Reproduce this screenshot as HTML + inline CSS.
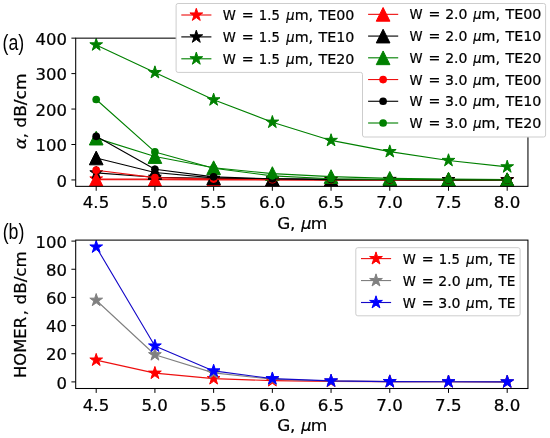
<!DOCTYPE html>
<html lang="en"><head><meta charset="utf-8"><title>Figure</title>
<style>html,body{margin:0;padding:0;background:#fff}svg{display:block}text{font-family:"DejaVu Sans","Liberation Sans",sans-serif;fill:#000;stroke:#000;stroke-width:0.22px}.t{font-size:15px}.g{font-size:14px}.l{font-size:15.6px}.x{font-size:16px}.p{font-family:"Liberation Sans",sans-serif;font-size:22.3px;stroke:none}.i{font-style:italic}</style></head>
<body>
<svg width="550" height="438" viewBox="0 0 550 438">
<rect width="550" height="438" fill="#fff"/>
<defs><clipPath id="c1"><rect x="75.7" y="38.15" width="452.25" height="148.2"/></clipPath><clipPath id="c2"><rect x="75.7" y="240.1" width="452.25" height="148.4"/></clipPath></defs>
<g clip-path="url(#c1)">
<polyline points="96.2,178.96 154.92,179.17 213.63,179.38 272.35,179.52 331.06,179.6 389.78,179.67 448.49,179.77 507.2,179.81" fill="none" stroke="#ee1010" stroke-width="1.12" stroke-linejoin="round"/>
<path d="M96.2,172.26L97.7,176.89L102.57,176.89L98.63,179.75L100.14,184.38L96.2,181.52L92.26,184.38L93.77,179.75L89.83,176.89L94.7,176.89Z" fill="#ff0000" stroke="#ff0000" stroke-width="1"/>
<path d="M154.92,172.47L156.42,177.1L161.29,177.1L157.35,179.96L158.85,184.59L154.92,181.73L150.98,184.59L152.48,179.96L148.54,177.1L153.41,177.1Z" fill="#ff0000" stroke="#ff0000" stroke-width="1"/>
<path d="M213.63,172.68L215.13,177.31L220,177.31L216.06,180.17L217.57,184.8L213.63,181.94L209.69,184.8L211.2,180.17L207.26,177.31L212.13,177.31Z" fill="#ff0000" stroke="#ff0000" stroke-width="1"/>
<path d="M272.35,172.82L273.85,177.45L278.72,177.45L274.78,180.32L276.28,184.95L272.35,182.08L268.41,184.95L269.91,180.32L265.97,177.45L270.84,177.45Z" fill="#ff0000" stroke="#ff0000" stroke-width="1"/>
<path d="M331.06,172.9L332.56,177.53L337.43,177.53L333.49,180.39L335,185.02L331.06,182.15L327.12,185.02L328.63,180.39L324.69,177.53L329.56,177.53Z" fill="#ff0000" stroke="#ff0000" stroke-width="1"/>
<path d="M389.78,172.97L391.28,177.6L396.15,177.6L392.21,180.46L393.71,185.09L389.78,182.23L385.84,185.09L387.34,180.46L383.4,177.6L388.27,177.6Z" fill="#ff0000" stroke="#ff0000" stroke-width="1"/>
<path d="M448.49,173.07L449.99,177.7L454.86,177.7L450.92,180.56L452.43,185.19L448.49,182.33L444.55,185.19L446.06,180.56L442.12,177.7L446.99,177.7Z" fill="#ff0000" stroke="#ff0000" stroke-width="1"/>
<path d="M507.2,173.11L508.71,177.74L513.58,177.74L509.64,180.6L511.14,185.23L507.2,182.37L503.27,185.23L504.77,180.6L500.83,177.74L505.7,177.74Z" fill="#ff0000" stroke="#ff0000" stroke-width="1"/>
<polyline points="96.2,172.86 154.92,177.29 213.63,178.35 272.35,178.89 331.06,179.24 389.78,179.45 448.49,179.6 507.2,179.74" fill="none" stroke="#000000" stroke-width="1.12" stroke-linejoin="round"/>
<path d="M96.2,166.16L97.7,170.79L102.57,170.79L98.63,173.65L100.14,178.28L96.2,175.42L92.26,178.28L93.77,173.65L89.83,170.79L94.7,170.79Z" fill="#000000" stroke="#000000" stroke-width="1"/>
<path d="M154.92,170.59L156.42,175.22L161.29,175.22L157.35,178.08L158.85,182.71L154.92,179.85L150.98,182.71L152.48,178.08L148.54,175.22L153.41,175.22Z" fill="#000000" stroke="#000000" stroke-width="1"/>
<path d="M213.63,171.65L215.13,176.28L220,176.28L216.06,179.15L217.57,183.78L213.63,180.91L209.69,183.78L211.2,179.15L207.26,176.28L212.13,176.28Z" fill="#000000" stroke="#000000" stroke-width="1"/>
<path d="M272.35,172.19L273.85,176.82L278.72,176.82L274.78,179.68L276.28,184.31L272.35,181.45L268.41,184.31L269.91,179.68L265.97,176.82L270.84,176.82Z" fill="#000000" stroke="#000000" stroke-width="1"/>
<path d="M331.06,172.54L332.56,177.17L337.43,177.17L333.49,180.03L335,184.66L331.06,181.8L327.12,184.66L328.63,180.03L324.69,177.17L329.56,177.17Z" fill="#000000" stroke="#000000" stroke-width="1"/>
<path d="M389.78,172.75L391.28,177.38L396.15,177.38L392.21,180.24L393.71,184.87L389.78,182.01L385.84,184.87L387.34,180.24L383.4,177.38L388.27,177.38Z" fill="#000000" stroke="#000000" stroke-width="1"/>
<path d="M448.49,172.9L449.99,177.53L454.86,177.53L450.92,180.39L452.43,185.02L448.49,182.15L444.55,185.02L446.06,180.39L442.12,177.53L446.99,177.53Z" fill="#000000" stroke="#000000" stroke-width="1"/>
<path d="M507.2,173.04L508.71,177.67L513.58,177.67L509.64,180.53L511.14,185.16L507.2,182.3L503.27,185.16L504.77,180.53L500.83,177.67L505.7,177.67Z" fill="#000000" stroke="#000000" stroke-width="1"/>
<polyline points="96.2,44.89 154.92,72.54 213.63,99.83 272.35,122.17 331.06,140.42 389.78,151.59 448.49,160.45 507.2,166.83" fill="none" stroke="#008000" stroke-width="1.12" stroke-linejoin="round"/>
<path d="M96.2,38.19L97.7,42.82L102.57,42.82L98.63,45.68L100.14,50.31L96.2,47.44L92.26,50.31L93.77,45.68L89.83,42.82L94.7,42.82Z" fill="#008000" stroke="#008000" stroke-width="1"/>
<path d="M154.92,65.84L156.42,70.47L161.29,70.47L157.35,73.33L158.85,77.96L154.92,75.1L150.98,77.96L152.48,73.33L148.54,70.47L153.41,70.47Z" fill="#008000" stroke="#008000" stroke-width="1"/>
<path d="M213.63,93.13L215.13,97.76L220,97.76L216.06,100.62L217.57,105.25L213.63,102.39L209.69,105.25L211.2,100.62L207.26,97.76L212.13,97.76Z" fill="#008000" stroke="#008000" stroke-width="1"/>
<path d="M272.35,115.47L273.85,120.1L278.72,120.1L274.78,122.96L276.28,127.59L272.35,124.73L268.41,127.59L269.91,122.96L265.97,120.1L270.84,120.1Z" fill="#008000" stroke="#008000" stroke-width="1"/>
<path d="M331.06,133.72L332.56,138.35L337.43,138.35L333.49,141.21L335,145.84L331.06,142.98L327.12,145.84L328.63,141.21L324.69,138.35L329.56,138.35Z" fill="#008000" stroke="#008000" stroke-width="1"/>
<path d="M389.78,144.89L391.28,149.52L396.15,149.52L392.21,152.38L393.71,157.01L389.78,154.15L385.84,157.01L387.34,152.38L383.4,149.52L388.27,149.52Z" fill="#008000" stroke="#008000" stroke-width="1"/>
<path d="M448.49,153.75L449.99,158.38L454.86,158.38L450.92,161.24L452.43,165.87L448.49,163.01L444.55,165.87L446.06,161.24L442.12,158.38L446.99,158.38Z" fill="#008000" stroke="#008000" stroke-width="1"/>
<path d="M507.2,160.13L508.71,164.76L513.58,164.76L509.64,167.62L511.14,172.25L507.2,169.39L503.27,172.25L504.77,167.62L500.83,164.76L505.7,164.76Z" fill="#008000" stroke="#008000" stroke-width="1"/>
<polyline points="96.2,179.6 154.92,179.77 213.63,179.84 272.35,179.88 331.06,179.91 389.78,179.91 448.49,179.95 507.2,179.95" fill="none" stroke="#ee1010" stroke-width="1.12" stroke-linejoin="round"/>
<path d="M96.2,172.75L89.35,186.45L103.05,186.45Z" fill="#ff0000" stroke="#ff0000" stroke-width="1"/>
<path d="M154.92,172.92L148.07,186.62L161.77,186.62Z" fill="#ff0000" stroke="#ff0000" stroke-width="1"/>
<path d="M213.63,172.99L206.78,186.69L220.48,186.69Z" fill="#ff0000" stroke="#ff0000" stroke-width="1"/>
<path d="M272.35,173.03L265.5,186.73L279.2,186.73Z" fill="#ff0000" stroke="#ff0000" stroke-width="1"/>
<path d="M331.06,173.06L324.21,186.76L337.91,186.76Z" fill="#ff0000" stroke="#ff0000" stroke-width="1"/>
<path d="M389.78,173.06L382.93,186.76L396.63,186.76Z" fill="#ff0000" stroke="#ff0000" stroke-width="1"/>
<path d="M448.49,173.1L441.64,186.8L455.34,186.8Z" fill="#ff0000" stroke="#ff0000" stroke-width="1"/>
<path d="M507.2,173.1L500.35,186.8L514.05,186.8Z" fill="#ff0000" stroke="#ff0000" stroke-width="1"/>
<polyline points="96.2,157.97 154.92,172.51 213.63,177.82 272.35,179.06 331.06,179.6 389.78,179.77 448.49,179.88 507.2,179.91" fill="none" stroke="#000000" stroke-width="1.12" stroke-linejoin="round"/>
<path d="M96.2,151.12L89.35,164.82L103.05,164.82Z" fill="#000000" stroke="#000000" stroke-width="1"/>
<path d="M154.92,165.66L148.07,179.36L161.77,179.36Z" fill="#000000" stroke="#000000" stroke-width="1"/>
<path d="M213.63,170.97L206.78,184.67L220.48,184.67Z" fill="#000000" stroke="#000000" stroke-width="1"/>
<path d="M272.35,172.21L265.5,185.91L279.2,185.91Z" fill="#000000" stroke="#000000" stroke-width="1"/>
<path d="M331.06,172.75L324.21,186.45L337.91,186.45Z" fill="#000000" stroke="#000000" stroke-width="1"/>
<path d="M389.78,172.92L382.93,186.62L396.63,186.62Z" fill="#000000" stroke="#000000" stroke-width="1"/>
<path d="M448.49,173.03L441.64,186.73L455.34,186.73Z" fill="#000000" stroke="#000000" stroke-width="1"/>
<path d="M507.2,173.06L500.35,186.76L514.05,186.76Z" fill="#000000" stroke="#000000" stroke-width="1"/>
<polyline points="96.2,138.12 154.92,156.55 213.63,167.72 272.35,173.57 331.06,176.58 389.78,178.35 448.49,179.17 507.2,179.6" fill="none" stroke="#008000" stroke-width="1.12" stroke-linejoin="round"/>
<path d="M96.2,131.27L89.35,144.97L103.05,144.97Z" fill="#008000" stroke="#008000" stroke-width="1"/>
<path d="M154.92,149.7L148.07,163.4L161.77,163.4Z" fill="#008000" stroke="#008000" stroke-width="1"/>
<path d="M213.63,160.87L206.78,174.57L220.48,174.57Z" fill="#008000" stroke="#008000" stroke-width="1"/>
<path d="M272.35,166.72L265.5,180.42L279.2,180.42Z" fill="#008000" stroke="#008000" stroke-width="1"/>
<path d="M331.06,169.73L324.21,183.43L337.91,183.43Z" fill="#008000" stroke="#008000" stroke-width="1"/>
<path d="M389.78,171.5L382.93,185.2L396.63,185.2Z" fill="#008000" stroke="#008000" stroke-width="1"/>
<path d="M448.49,172.32L441.64,186.02L455.34,186.02Z" fill="#008000" stroke="#008000" stroke-width="1"/>
<path d="M507.2,172.75L500.35,186.45L514.05,186.45Z" fill="#008000" stroke="#008000" stroke-width="1"/>
<polyline points="96.2,170.2 154.92,177.65 213.63,179.06 272.35,179.67 331.06,179.84 389.78,179.91 448.49,179.95 507.2,179.95" fill="none" stroke="#ee1010" stroke-width="1.12" stroke-linejoin="round"/>
<circle cx="96.2" cy="170.2" r="3.85" fill="#ff0000"/>
<circle cx="154.92" cy="177.65" r="3.85" fill="#ff0000"/>
<circle cx="213.63" cy="179.06" r="3.85" fill="#ff0000"/>
<circle cx="272.35" cy="179.67" r="3.85" fill="#ff0000"/>
<circle cx="331.06" cy="179.84" r="3.85" fill="#ff0000"/>
<circle cx="389.78" cy="179.91" r="3.85" fill="#ff0000"/>
<circle cx="448.49" cy="179.95" r="3.85" fill="#ff0000"/>
<circle cx="507.2" cy="179.95" r="3.85" fill="#ff0000"/>
<polyline points="96.2,136.35 154.92,169.31 213.63,176.87 272.35,178.89 331.06,179.6 389.78,179.81 448.49,179.91 507.2,179.95" fill="none" stroke="#000000" stroke-width="1.12" stroke-linejoin="round"/>
<circle cx="96.2" cy="136.35" r="3.85" fill="#000000"/>
<circle cx="154.92" cy="169.31" r="3.85" fill="#000000"/>
<circle cx="213.63" cy="176.87" r="3.85" fill="#000000"/>
<circle cx="272.35" cy="178.89" r="3.85" fill="#000000"/>
<circle cx="331.06" cy="179.6" r="3.85" fill="#000000"/>
<circle cx="389.78" cy="179.81" r="3.85" fill="#000000"/>
<circle cx="448.49" cy="179.91" r="3.85" fill="#000000"/>
<circle cx="507.2" cy="179.95" r="3.85" fill="#000000"/>
<polyline points="96.2,99.48 154.92,151.94 213.63,168.25 272.35,175.87 331.06,178.71 389.78,179.52 448.49,179.77 507.2,179.88" fill="none" stroke="#008000" stroke-width="1.12" stroke-linejoin="round"/>
<circle cx="96.2" cy="99.48" r="3.85" fill="#008000"/>
<circle cx="154.92" cy="151.94" r="3.85" fill="#008000"/>
<circle cx="213.63" cy="168.25" r="3.85" fill="#008000"/>
<circle cx="272.35" cy="175.87" r="3.85" fill="#008000"/>
<circle cx="331.06" cy="178.71" r="3.85" fill="#008000"/>
<circle cx="389.78" cy="179.52" r="3.85" fill="#008000"/>
<circle cx="448.49" cy="179.77" r="3.85" fill="#008000"/>
<circle cx="507.2" cy="179.88" r="3.85" fill="#008000"/>
</g>
<line x1="96.2" x2="96.2" y1="186.35" y2="190.75" stroke="#000" stroke-width="1"/><text class="t" text-anchor="middle" transform="translate(96,208.15) scale(1.11,1)">4.5</text>
<line x1="154.92" x2="154.92" y1="186.35" y2="190.75" stroke="#000" stroke-width="1"/><text class="t" text-anchor="middle" transform="translate(154.72,208.15) scale(1.11,1)">5.0</text>
<line x1="213.63" x2="213.63" y1="186.35" y2="190.75" stroke="#000" stroke-width="1"/><text class="t" text-anchor="middle" transform="translate(213.43,208.15) scale(1.11,1)">5.5</text>
<line x1="272.35" x2="272.35" y1="186.35" y2="190.75" stroke="#000" stroke-width="1"/><text class="t" text-anchor="middle" transform="translate(272.15,208.15) scale(1.11,1)">6.0</text>
<line x1="331.06" x2="331.06" y1="186.35" y2="190.75" stroke="#000" stroke-width="1"/><text class="t" text-anchor="middle" transform="translate(330.86,208.15) scale(1.11,1)">6.5</text>
<line x1="389.78" x2="389.78" y1="186.35" y2="190.75" stroke="#000" stroke-width="1"/><text class="t" text-anchor="middle" transform="translate(389.58,208.15) scale(1.11,1)">7.0</text>
<line x1="448.49" x2="448.49" y1="186.35" y2="190.75" stroke="#000" stroke-width="1"/><text class="t" text-anchor="middle" transform="translate(448.29,208.15) scale(1.11,1)">7.5</text>
<line x1="507.2" x2="507.2" y1="186.35" y2="190.75" stroke="#000" stroke-width="1"/><text class="t" text-anchor="middle" transform="translate(507,208.15) scale(1.11,1)">8.0</text>
<line x1="71.4" x2="75.7" y1="179.95" y2="179.95" stroke="#000" stroke-width="1"/><text class="t" text-anchor="end" transform="translate(66.9,186.55) scale(1.1,1)">0</text>
<line x1="71.4" x2="75.7" y1="144.5" y2="144.5" stroke="#000" stroke-width="1"/><text class="t" text-anchor="end" transform="translate(66.9,151.1) scale(1.1,1)">100</text>
<line x1="71.4" x2="75.7" y1="109.05" y2="109.05" stroke="#000" stroke-width="1"/><text class="t" text-anchor="end" transform="translate(66.9,115.65) scale(1.1,1)">200</text>
<line x1="71.4" x2="75.7" y1="73.6" y2="73.6" stroke="#000" stroke-width="1"/><text class="t" text-anchor="end" transform="translate(66.9,80.2) scale(1.1,1)">300</text>
<line x1="71.4" x2="75.7" y1="38.15" y2="38.15" stroke="#000" stroke-width="1"/><text class="t" text-anchor="end" transform="translate(66.9,44.75) scale(1.1,1)">400</text>
<rect x="75.7" y="38.15" width="452.25" height="148.2" fill="none" stroke="#000" stroke-width="1.05"/>
<text class="x" y="229.35"><tspan x="277.15" textLength="13.02" lengthAdjust="spacingAndGlyphs">G</tspan><tspan x="290.01" textLength="5.34" lengthAdjust="spacingAndGlyphs">,</tspan> <tspan class="i" x="301.21" textLength="10.12" lengthAdjust="spacingAndGlyphs">μ</tspan><tspan x="310.77" textLength="16.56" lengthAdjust="spacingAndGlyphs">m</tspan></text>
<g clip-path="url(#c2)">
<polyline points="96.2,360.08 154.92,373.17 213.63,378.66 272.35,380.63 331.06,381.34 389.78,381.62 448.49,381.76 507.2,381.9" fill="none" stroke="#ee1010" stroke-width="1.12" stroke-linejoin="round"/>
<path d="M96.2,353.38L97.7,358.01L102.57,358.01L98.63,360.87L100.14,365.5L96.2,362.64L92.26,365.5L93.77,360.87L89.83,358.01L94.7,358.01Z" fill="#ff0000" stroke="#ff0000" stroke-width="1"/>
<path d="M154.92,366.47L156.42,371.1L161.29,371.1L157.35,373.96L158.85,378.59L154.92,375.73L150.98,378.59L152.48,373.96L148.54,371.1L153.41,371.1Z" fill="#ff0000" stroke="#ff0000" stroke-width="1"/>
<path d="M213.63,371.96L215.13,376.59L220,376.59L216.06,379.45L217.57,384.08L213.63,381.22L209.69,384.08L211.2,379.45L207.26,376.59L212.13,376.59Z" fill="#ff0000" stroke="#ff0000" stroke-width="1"/>
<path d="M272.35,373.93L273.85,378.56L278.72,378.56L274.78,381.42L276.28,386.05L272.35,383.19L268.41,386.05L269.91,381.42L265.97,378.56L270.84,378.56Z" fill="#ff0000" stroke="#ff0000" stroke-width="1"/>
<path d="M331.06,374.64L332.56,379.27L337.43,379.27L333.49,382.13L335,386.76L331.06,383.9L327.12,386.76L328.63,382.13L324.69,379.27L329.56,379.27Z" fill="#ff0000" stroke="#ff0000" stroke-width="1"/>
<path d="M389.78,374.92L391.28,379.55L396.15,379.55L392.21,382.41L393.71,387.04L389.78,384.18L385.84,387.04L387.34,382.41L383.4,379.55L388.27,379.55Z" fill="#ff0000" stroke="#ff0000" stroke-width="1"/>
<path d="M448.49,375.06L449.99,379.69L454.86,379.69L450.92,382.55L452.43,387.18L448.49,384.32L444.55,387.18L446.06,382.55L442.12,379.69L446.99,379.69Z" fill="#ff0000" stroke="#ff0000" stroke-width="1"/>
<path d="M507.2,375.2L508.71,379.83L513.58,379.83L509.64,382.69L511.14,387.32L507.2,384.46L503.27,387.32L504.77,382.69L500.83,379.83L505.7,379.83Z" fill="#ff0000" stroke="#ff0000" stroke-width="1"/>
<polyline points="96.2,300.24 154.92,354.73 213.63,372.89 272.35,379.22 331.06,381.06 389.78,381.62 448.49,381.76 507.2,381.9" fill="none" stroke="#808080" stroke-width="1.12" stroke-linejoin="round"/>
<path d="M96.2,293.54L97.7,298.17L102.57,298.17L98.63,301.03L100.14,305.66L96.2,302.8L92.26,305.66L93.77,301.03L89.83,298.17L94.7,298.17Z" fill="#808080" stroke="#808080" stroke-width="1"/>
<path d="M154.92,348.03L156.42,352.66L161.29,352.66L157.35,355.52L158.85,360.15L154.92,357.28L150.98,360.15L152.48,355.52L148.54,352.66L153.41,352.66Z" fill="#808080" stroke="#808080" stroke-width="1"/>
<path d="M213.63,366.19L215.13,370.82L220,370.82L216.06,373.68L217.57,378.31L213.63,375.45L209.69,378.31L211.2,373.68L207.26,370.82L212.13,370.82Z" fill="#808080" stroke="#808080" stroke-width="1"/>
<path d="M272.35,372.52L273.85,377.15L278.72,377.15L274.78,380.02L276.28,384.65L272.35,381.78L268.41,384.65L269.91,380.02L265.97,377.15L270.84,377.15Z" fill="#808080" stroke="#808080" stroke-width="1"/>
<path d="M331.06,374.36L332.56,378.98L337.43,378.98L333.49,381.85L335,386.48L331.06,383.61L327.12,386.48L328.63,381.85L324.69,378.98L329.56,378.98Z" fill="#808080" stroke="#808080" stroke-width="1"/>
<path d="M389.78,374.92L391.28,379.55L396.15,379.55L392.21,382.41L393.71,387.04L389.78,384.18L385.84,387.04L387.34,382.41L383.4,379.55L388.27,379.55Z" fill="#808080" stroke="#808080" stroke-width="1"/>
<path d="M448.49,375.06L449.99,379.69L454.86,379.69L450.92,382.55L452.43,387.18L448.49,384.32L444.55,387.18L446.06,382.55L442.12,379.69L446.99,379.69Z" fill="#808080" stroke="#808080" stroke-width="1"/>
<path d="M507.2,375.2L508.71,379.83L513.58,379.83L509.64,382.69L511.14,387.32L507.2,384.46L503.27,387.32L504.77,382.69L500.83,379.83L505.7,379.83Z" fill="#808080" stroke="#808080" stroke-width="1"/>
<polyline points="96.2,247.01 154.92,346 213.63,370.92 272.35,378.66 331.06,380.91 389.78,381.62 448.49,381.76 507.2,381.9" fill="none" stroke="#1408c8" stroke-width="1.12" stroke-linejoin="round"/>
<path d="M96.2,240.31L97.7,244.94L102.57,244.94L98.63,247.8L100.14,252.43L96.2,249.57L92.26,252.43L93.77,247.8L89.83,244.94L94.7,244.94Z" fill="#0000ff" stroke="#0000ff" stroke-width="1"/>
<path d="M154.92,339.3L156.42,343.93L161.29,343.93L157.35,346.79L158.85,351.42L154.92,348.56L150.98,351.42L152.48,346.79L148.54,343.93L153.41,343.93Z" fill="#0000ff" stroke="#0000ff" stroke-width="1"/>
<path d="M213.63,364.22L215.13,368.85L220,368.85L216.06,371.71L217.57,376.34L213.63,373.48L209.69,376.34L211.2,371.71L207.26,368.85L212.13,368.85Z" fill="#0000ff" stroke="#0000ff" stroke-width="1"/>
<path d="M272.35,371.96L273.85,376.59L278.72,376.59L274.78,379.45L276.28,384.08L272.35,381.22L268.41,384.08L269.91,379.45L265.97,376.59L270.84,376.59Z" fill="#0000ff" stroke="#0000ff" stroke-width="1"/>
<path d="M331.06,374.21L332.56,378.84L337.43,378.84L333.49,381.71L335,386.33L331.06,383.47L327.12,386.33L328.63,381.71L324.69,378.84L329.56,378.84Z" fill="#0000ff" stroke="#0000ff" stroke-width="1"/>
<path d="M389.78,374.92L391.28,379.55L396.15,379.55L392.21,382.41L393.71,387.04L389.78,384.18L385.84,387.04L387.34,382.41L383.4,379.55L388.27,379.55Z" fill="#0000ff" stroke="#0000ff" stroke-width="1"/>
<path d="M448.49,375.06L449.99,379.69L454.86,379.69L450.92,382.55L452.43,387.18L448.49,384.32L444.55,387.18L446.06,382.55L442.12,379.69L446.99,379.69Z" fill="#0000ff" stroke="#0000ff" stroke-width="1"/>
<path d="M507.2,375.2L508.71,379.83L513.58,379.83L509.64,382.69L511.14,387.32L507.2,384.46L503.27,387.32L504.77,382.69L500.83,379.83L505.7,379.83Z" fill="#0000ff" stroke="#0000ff" stroke-width="1"/>
</g>
<line x1="96.2" x2="96.2" y1="388.5" y2="392.9" stroke="#000" stroke-width="1"/><text class="t" text-anchor="middle" transform="translate(96,410.6) scale(1.11,1)">4.5</text>
<line x1="154.92" x2="154.92" y1="388.5" y2="392.9" stroke="#000" stroke-width="1"/><text class="t" text-anchor="middle" transform="translate(154.72,410.6) scale(1.11,1)">5.0</text>
<line x1="213.63" x2="213.63" y1="388.5" y2="392.9" stroke="#000" stroke-width="1"/><text class="t" text-anchor="middle" transform="translate(213.43,410.6) scale(1.11,1)">5.5</text>
<line x1="272.35" x2="272.35" y1="388.5" y2="392.9" stroke="#000" stroke-width="1"/><text class="t" text-anchor="middle" transform="translate(272.15,410.6) scale(1.11,1)">6.0</text>
<line x1="331.06" x2="331.06" y1="388.5" y2="392.9" stroke="#000" stroke-width="1"/><text class="t" text-anchor="middle" transform="translate(330.86,410.6) scale(1.11,1)">6.5</text>
<line x1="389.78" x2="389.78" y1="388.5" y2="392.9" stroke="#000" stroke-width="1"/><text class="t" text-anchor="middle" transform="translate(389.58,410.6) scale(1.11,1)">7.0</text>
<line x1="448.49" x2="448.49" y1="388.5" y2="392.9" stroke="#000" stroke-width="1"/><text class="t" text-anchor="middle" transform="translate(448.29,410.6) scale(1.11,1)">7.5</text>
<line x1="507.2" x2="507.2" y1="388.5" y2="392.9" stroke="#000" stroke-width="1"/><text class="t" text-anchor="middle" transform="translate(507,410.6) scale(1.11,1)">8.0</text>
<line x1="71.4" x2="75.7" y1="381.9" y2="381.9" stroke="#000" stroke-width="1"/><text class="t" text-anchor="end" transform="translate(66.9,388.5) scale(1.1,1)">0</text>
<line x1="71.4" x2="75.7" y1="353.74" y2="353.74" stroke="#000" stroke-width="1"/><text class="t" text-anchor="end" transform="translate(66.9,360.34) scale(1.1,1)">20</text>
<line x1="71.4" x2="75.7" y1="325.58" y2="325.58" stroke="#000" stroke-width="1"/><text class="t" text-anchor="end" transform="translate(66.9,332.18) scale(1.1,1)">40</text>
<line x1="71.4" x2="75.7" y1="297.42" y2="297.42" stroke="#000" stroke-width="1"/><text class="t" text-anchor="end" transform="translate(66.9,304.02) scale(1.1,1)">60</text>
<line x1="71.4" x2="75.7" y1="269.26" y2="269.26" stroke="#000" stroke-width="1"/><text class="t" text-anchor="end" transform="translate(66.9,275.86) scale(1.1,1)">80</text>
<line x1="71.4" x2="75.7" y1="241.1" y2="241.1" stroke="#000" stroke-width="1"/><text class="t" text-anchor="end" transform="translate(66.9,247.7) scale(1.1,1)">100</text>
<rect x="75.7" y="240.1" width="452.25" height="148.4" fill="none" stroke="#000" stroke-width="1.05"/>
<text class="x" y="431.4"><tspan x="277.15" textLength="13.02" lengthAdjust="spacingAndGlyphs">G</tspan><tspan x="290.01" textLength="5.34" lengthAdjust="spacingAndGlyphs">,</tspan> <tspan class="i" x="301.21" textLength="10.12" lengthAdjust="spacingAndGlyphs">μ</tspan><tspan x="310.77" textLength="16.56" lengthAdjust="spacingAndGlyphs">m</tspan></text>
<text class="l" transform="rotate(-90)" y="26.4"><tspan class="i" x="-149.3" textLength="11.27" lengthAdjust="spacingAndGlyphs">α</tspan><tspan x="-138.16" textLength="5.21" lengthAdjust="spacingAndGlyphs">,</tspan> <tspan x="-127.67" textLength="54.21" lengthAdjust="spacingAndGlyphs">dB/cm</tspan></text>
<text class="l" transform="rotate(-90)" y="25.9"><tspan x="-377.98" textLength="61.05" lengthAdjust="spacingAndGlyphs">HOMER</tspan><tspan x="-315.16" textLength="5.21" lengthAdjust="spacingAndGlyphs">,</tspan> <tspan x="-304.45" textLength="53.27" lengthAdjust="spacingAndGlyphs">dB/cm</tspan></text>
<text class="p" transform="translate(2.6,50.0) scale(0.795,1)">(a)</text>
<text class="p" transform="translate(2.7,239.25) scale(0.795,1)">(b)</text>
<path d="M178.1,3.5H543.6a2,2 0 0 1 2,2V135a2,2 0 0 1 -2,2H364.5a2,2 0 0 1 -2,-2V74.4a2,2 0 0 0 -2,-2H178.1a2,2 0 0 1 -2,-2V5.5a2,2 0 0 1 2,-2Z" fill="#fff" fill-opacity="1" stroke="#cdcdcd" stroke-width="1"/>
<line x1="181.3" x2="211.4" y1="15" y2="15" stroke="#ee1010" stroke-width="1.12"/><path d="M196.3,8.3L197.8,12.93L202.67,12.93L198.73,15.79L200.24,20.42L196.3,17.56L192.36,20.42L193.87,15.79L189.93,12.93L194.8,12.93Z" fill="#ff0000" stroke="#ff0000" stroke-width="1"/><text class="g" y="19.8"><tspan x="222.71" textLength="13.07" lengthAdjust="spacingAndGlyphs">W</tspan> <tspan x="241.69" textLength="11.9" lengthAdjust="spacingAndGlyphs">=</tspan> <tspan x="258.85" textLength="21" lengthAdjust="spacingAndGlyphs">1.5</tspan> <tspan class="i" x="286.27" textLength="8.33" lengthAdjust="spacingAndGlyphs">μ</tspan><tspan x="294.72" textLength="18.41" lengthAdjust="spacingAndGlyphs">m,</tspan> <tspan x="318.55" textLength="35.88" lengthAdjust="spacingAndGlyphs">TE00</tspan></text>
<line x1="368.1" x2="398.2" y1="14.35" y2="14.35" stroke="#ee1010" stroke-width="1.12"/><path d="M383.1,7.5L376.25,21.2L389.95,21.2Z" fill="#ff0000" stroke="#ff0000" stroke-width="1"/><text class="g" y="19.35"><tspan x="409.61" textLength="13.07" lengthAdjust="spacingAndGlyphs">W</tspan> <tspan x="428.59" textLength="11.9" lengthAdjust="spacingAndGlyphs">=</tspan> <tspan x="445.17" textLength="22.27" lengthAdjust="spacingAndGlyphs">2.0</tspan> <tspan class="i" x="473.17" textLength="8.33" lengthAdjust="spacingAndGlyphs">μ</tspan><tspan x="481.62" textLength="18.41" lengthAdjust="spacingAndGlyphs">m,</tspan> <tspan x="505.45" textLength="35.88" lengthAdjust="spacingAndGlyphs">TE00</tspan></text>
<line x1="368.1" x2="398.2" y1="79.54" y2="79.54" stroke="#ee1010" stroke-width="1.12"/><circle cx="383.1" cy="79.54" r="3.85" fill="#ff0000"/><text class="g" y="84.54"><tspan x="409.61" textLength="13.07" lengthAdjust="spacingAndGlyphs">W</tspan> <tspan x="428.59" textLength="11.9" lengthAdjust="spacingAndGlyphs">=</tspan> <tspan x="445.12" textLength="22.32" lengthAdjust="spacingAndGlyphs">3.0</tspan> <tspan class="i" x="473.17" textLength="8.33" lengthAdjust="spacingAndGlyphs">μ</tspan><tspan x="481.62" textLength="18.41" lengthAdjust="spacingAndGlyphs">m,</tspan> <tspan x="505.45" textLength="35.88" lengthAdjust="spacingAndGlyphs">TE00</tspan></text>
<line x1="181.3" x2="211.4" y1="36.9" y2="36.9" stroke="#000000" stroke-width="1.12"/><path d="M196.3,30.2L197.8,34.83L202.67,34.83L198.73,37.69L200.24,42.32L196.3,39.46L192.36,42.32L193.87,37.69L189.93,34.83L194.8,34.83Z" fill="#000000" stroke="#000000" stroke-width="1"/><text class="g" y="41.7"><tspan x="222.71" textLength="13.07" lengthAdjust="spacingAndGlyphs">W</tspan> <tspan x="241.69" textLength="11.9" lengthAdjust="spacingAndGlyphs">=</tspan> <tspan x="258.85" textLength="21" lengthAdjust="spacingAndGlyphs">1.5</tspan> <tspan class="i" x="286.27" textLength="8.33" lengthAdjust="spacingAndGlyphs">μ</tspan><tspan x="294.72" textLength="18.41" lengthAdjust="spacingAndGlyphs">m,</tspan> <tspan x="318.55" textLength="35.88" lengthAdjust="spacingAndGlyphs">TE10</tspan></text>
<line x1="368.1" x2="398.2" y1="36.08" y2="36.08" stroke="#000000" stroke-width="1.12"/><path d="M383.1,29.23L376.25,42.93L389.95,42.93Z" fill="#000000" stroke="#000000" stroke-width="1"/><text class="g" y="41.08"><tspan x="409.61" textLength="13.07" lengthAdjust="spacingAndGlyphs">W</tspan> <tspan x="428.59" textLength="11.9" lengthAdjust="spacingAndGlyphs">=</tspan> <tspan x="445.17" textLength="22.27" lengthAdjust="spacingAndGlyphs">2.0</tspan> <tspan class="i" x="473.17" textLength="8.33" lengthAdjust="spacingAndGlyphs">μ</tspan><tspan x="481.62" textLength="18.41" lengthAdjust="spacingAndGlyphs">m,</tspan> <tspan x="505.45" textLength="35.88" lengthAdjust="spacingAndGlyphs">TE10</tspan></text>
<line x1="368.1" x2="398.2" y1="101.27" y2="101.27" stroke="#000000" stroke-width="1.12"/><circle cx="383.1" cy="101.27" r="3.85" fill="#000000"/><text class="g" y="106.27"><tspan x="409.61" textLength="13.07" lengthAdjust="spacingAndGlyphs">W</tspan> <tspan x="428.59" textLength="11.9" lengthAdjust="spacingAndGlyphs">=</tspan> <tspan x="445.12" textLength="22.32" lengthAdjust="spacingAndGlyphs">3.0</tspan> <tspan class="i" x="473.17" textLength="8.33" lengthAdjust="spacingAndGlyphs">μ</tspan><tspan x="481.62" textLength="18.41" lengthAdjust="spacingAndGlyphs">m,</tspan> <tspan x="505.45" textLength="35.88" lengthAdjust="spacingAndGlyphs">TE10</tspan></text>
<line x1="181.3" x2="211.4" y1="58.8" y2="58.8" stroke="#008000" stroke-width="1.12"/><path d="M196.3,52.1L197.8,56.73L202.67,56.73L198.73,59.59L200.24,64.22L196.3,61.36L192.36,64.22L193.87,59.59L189.93,56.73L194.8,56.73Z" fill="#008000" stroke="#008000" stroke-width="1"/><text class="g" y="63.6"><tspan x="222.71" textLength="13.07" lengthAdjust="spacingAndGlyphs">W</tspan> <tspan x="241.69" textLength="11.9" lengthAdjust="spacingAndGlyphs">=</tspan> <tspan x="258.85" textLength="21" lengthAdjust="spacingAndGlyphs">1.5</tspan> <tspan class="i" x="286.27" textLength="8.33" lengthAdjust="spacingAndGlyphs">μ</tspan><tspan x="294.72" textLength="18.41" lengthAdjust="spacingAndGlyphs">m,</tspan> <tspan x="318.55" textLength="35.88" lengthAdjust="spacingAndGlyphs">TE20</tspan></text>
<line x1="368.1" x2="398.2" y1="57.81" y2="57.81" stroke="#008000" stroke-width="1.12"/><path d="M383.1,50.96L376.25,64.66L389.95,64.66Z" fill="#008000" stroke="#008000" stroke-width="1"/><text class="g" y="62.81"><tspan x="409.61" textLength="13.07" lengthAdjust="spacingAndGlyphs">W</tspan> <tspan x="428.59" textLength="11.9" lengthAdjust="spacingAndGlyphs">=</tspan> <tspan x="445.17" textLength="22.27" lengthAdjust="spacingAndGlyphs">2.0</tspan> <tspan class="i" x="473.17" textLength="8.33" lengthAdjust="spacingAndGlyphs">μ</tspan><tspan x="481.62" textLength="18.41" lengthAdjust="spacingAndGlyphs">m,</tspan> <tspan x="505.45" textLength="35.88" lengthAdjust="spacingAndGlyphs">TE20</tspan></text>
<line x1="368.1" x2="398.2" y1="123" y2="123" stroke="#008000" stroke-width="1.12"/><circle cx="383.1" cy="123" r="3.85" fill="#008000"/><text class="g" y="128"><tspan x="409.61" textLength="13.07" lengthAdjust="spacingAndGlyphs">W</tspan> <tspan x="428.59" textLength="11.9" lengthAdjust="spacingAndGlyphs">=</tspan> <tspan x="445.12" textLength="22.32" lengthAdjust="spacingAndGlyphs">3.0</tspan> <tspan class="i" x="473.17" textLength="8.33" lengthAdjust="spacingAndGlyphs">μ</tspan><tspan x="481.62" textLength="18.41" lengthAdjust="spacingAndGlyphs">m,</tspan> <tspan x="505.45" textLength="35.88" lengthAdjust="spacingAndGlyphs">TE20</tspan></text>
<rect x="355.8" y="247.7" width="164.3" height="68.1" rx="2" ry="2" fill="#fff" fill-opacity="1" stroke="#cdcdcd" stroke-width="1"/>
<line x1="361" x2="391.1" y1="258.6" y2="258.6" stroke="#ee1010" stroke-width="1.12"/><path d="M376,251.9L377.5,256.53L382.37,256.53L378.43,259.39L379.94,264.02L376,261.16L372.06,264.02L373.57,259.39L369.63,256.53L374.5,256.53Z" fill="#ff0000" stroke="#ff0000" stroke-width="1"/><text class="g" y="263.9"><tspan x="402.71" textLength="13.07" lengthAdjust="spacingAndGlyphs">W</tspan> <tspan x="421.69" textLength="11.9" lengthAdjust="spacingAndGlyphs">=</tspan> <tspan x="438.85" textLength="21" lengthAdjust="spacingAndGlyphs">1.5</tspan> <tspan class="i" x="466.27" textLength="8.33" lengthAdjust="spacingAndGlyphs">μ</tspan><tspan x="474.72" textLength="18.41" lengthAdjust="spacingAndGlyphs">m,</tspan> <tspan x="498.55" textLength="16.91" lengthAdjust="spacingAndGlyphs">TE</tspan></text>
<line x1="361" x2="391.1" y1="280.55" y2="280.55" stroke="#808080" stroke-width="1.12"/><path d="M376,273.85L377.5,278.48L382.37,278.48L378.43,281.34L379.94,285.97L376,283.11L372.06,285.97L373.57,281.34L369.63,278.48L374.5,278.48Z" fill="#808080" stroke="#808080" stroke-width="1"/><text class="g" y="285.85"><tspan x="402.71" textLength="13.07" lengthAdjust="spacingAndGlyphs">W</tspan> <tspan x="421.69" textLength="11.9" lengthAdjust="spacingAndGlyphs">=</tspan> <tspan x="438.27" textLength="22.27" lengthAdjust="spacingAndGlyphs">2.0</tspan> <tspan class="i" x="466.27" textLength="8.33" lengthAdjust="spacingAndGlyphs">μ</tspan><tspan x="474.72" textLength="18.41" lengthAdjust="spacingAndGlyphs">m,</tspan> <tspan x="498.55" textLength="16.91" lengthAdjust="spacingAndGlyphs">TE</tspan></text>
<line x1="361" x2="391.1" y1="302.5" y2="302.5" stroke="#1408c8" stroke-width="1.12"/><path d="M376,295.8L377.5,300.43L382.37,300.43L378.43,303.29L379.94,307.92L376,305.06L372.06,307.92L373.57,303.29L369.63,300.43L374.5,300.43Z" fill="#0000ff" stroke="#0000ff" stroke-width="1"/><text class="g" y="307.8"><tspan x="402.71" textLength="13.07" lengthAdjust="spacingAndGlyphs">W</tspan> <tspan x="421.69" textLength="11.9" lengthAdjust="spacingAndGlyphs">=</tspan> <tspan x="438.22" textLength="22.32" lengthAdjust="spacingAndGlyphs">3.0</tspan> <tspan class="i" x="466.27" textLength="8.33" lengthAdjust="spacingAndGlyphs">μ</tspan><tspan x="474.72" textLength="18.41" lengthAdjust="spacingAndGlyphs">m,</tspan> <tspan x="498.55" textLength="16.91" lengthAdjust="spacingAndGlyphs">TE</tspan></text>
</svg>
</body></html>
